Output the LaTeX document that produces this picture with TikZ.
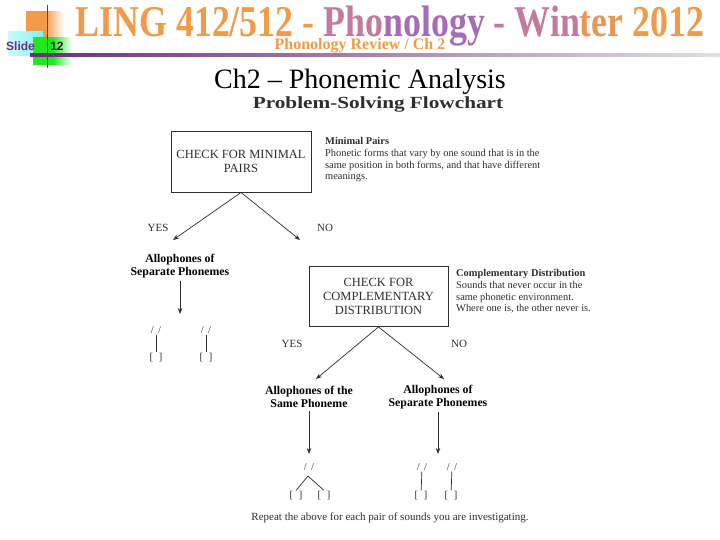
\documentclass[tikz,border=0pt]{standalone}
\usepackage{fontspec}
\setmainfont{Liberation Serif}
\setsansfont{Liberation Sans}
\usetikzlibrary{arrows.meta}

\definecolor{slideorange}{HTML}{F29A48}
\definecolor{slidemauve}{HTML}{C47AA0}
\definecolor{slidepurple}{HTML}{A66CB6}
\definecolor{slideline}{HTML}{6B2D7E}
\definecolor{slidecyan}{HTML}{7FF3F3}
\definecolor{slidegreen}{HTML}{22E622}
\definecolor{inkgrey}{HTML}{2E2E2E}

\tikzset{
  checkbox/.style={draw=inkgrey, line width=0.9pt, align=center, text=inkgrey,
    font=\fontsize{12.5}{13.5}\selectfont, inner sep=0pt},
  answer/.style={text=inkgrey, font=\fontsize{11}{13}\selectfont},
  outcome/.style={text=black, align=center, font=\bfseries\fontsize{11.8}{12.8}\selectfont},
  gloss/.style={text=inkgrey, align=left, anchor=north west, inner sep=0pt,
    font=\fontsize{10.4}{11.8}\selectfont},
  phon/.style={text=inkgrey, inner sep=1pt, font=\fontsize{10.5}{12}\selectfont},
  flow/.style={draw=inkgrey, line width=0.7pt, -{Stealth[length=6pt,width=4.5pt]}},
  stem/.style={draw=inkgrey, line width=0.7pt}
}

\begin{document}
\begin{tikzpicture}[x=1pt, y=-1pt]
  \useasboundingbox[fill=white] (0,0) rectangle (720,540);

  % Slide logo
  \shade[left color=slideorange, right color=white, middle color=slideorange] (26,12) rectangle (64,40);
  \shade[left color=slidecyan!40, right color=slidecyan] (8,32) rectangle (43,56);
  \shade[left color=slidegreen, right color=white, middle color=slidegreen] (33,38) rectangle (72,65);
  \shade[left color=slideline, right color=black!12] (30,54) rectangle (720,57);
  \draw[slideline, line width=1.5pt] (47.5,5) -- (47.5,68);
  \node[text=slideline, font=\sffamily\bfseries\fontsize{12}{12}\selectfont] (slidetag) at (20.5,46) {Slide};
  \node[text=black!85, font=\sffamily\bfseries\fontsize{12}{12}\selectfont] (slidenum) at (57,46) {12};

  % Header
  \node[font=\bfseries\fontsize{44}{44}\selectfont, xscale=0.815, inner sep=0pt] (title) at (390,26)
    {\textcolor{slideorange}{LING 412/512 -} \textcolor{slidemauve}{Pho}\textcolor{slidepurple}{nology} \textcolor{slidemauve}{- Win}\textcolor{slideorange!85!slidemauve}{ter} \textcolor{slideorange}{2012}};
  \node[text=slideorange, font=\bfseries\fontsize{16}{16}\selectfont, inner sep=0pt] (subtitle) at (360,46) {Phonology Review / Ch 2};

  \node[font=\fontsize{28}{28}\selectfont, inner sep=0pt] (heading) at (360,82) {Ch2 -- Phonemic Analysis};
  \node[text=inkgrey, font=\bfseries\fontsize{17}{17}\selectfont, xscale=1.25, inner sep=0pt] (charttitle) at (378,104) {Problem-Solving Flowchart};

  % First test: minimal pairs
  \node[checkbox, minimum width=140pt, minimum height=61pt] (minpairs) at (241,161.5) {CHECK FOR MINIMAL\\PAIRS};
  \node[gloss] (minnote) at (325,137) {\textbf{Minimal Pairs}\\Phonetic forms that vary by one sound that is in the\\same position in both forms, and that have different\\meanings.};

  \coordinate (yesend) at (173,240);
  \coordinate (noend) at (300,240);
  \draw[flow] (minpairs.south) -- (yesend);
  \draw[flow] (minpairs.south) -- (noend);
  \node[answer] (yesone) at (158,228) {YES};
  \node[answer] (noone) at (325,228) {NO};

  \node[outcome] (sepone) at (180,266) {Allophones of\\Separate Phonemes};
  \coordinate (sepend) at (180,314);
  \draw[flow] (sepone.south) -- (sepend);

  % Separate phonemes, first case
  \node[phon] (slasha) at (156,330) {/ \,/};
  \node[phon] (slashb) at (206,330) {/ \,/};
  \node[phon] (bracka) at (156,358) {[ \;]};
  \node[phon] (brackb) at (206,358) {[ \;]};
  \draw[stem] (slasha) -- (bracka);
  \draw[stem] (slashb) -- (brackb);

  % Second test: complementary distribution
  \node[checkbox, minimum width=139pt, minimum height=60pt, font=\fontsize{12.5}{13.7}\selectfont] (compdist) at (378.5,296.5) {CHECK FOR\\COMPLEMENTARY\\DISTRIBUTION};
  \node[gloss] (compnote) at (456,269) {\textbf{Complementary Distribution}\\Sounds that never occur in the\\same phonetic environment.\\Where one is, the other never is.};

  \coordinate (sameend) at (316,379);
  \coordinate (diffend) at (444,379);
  \draw[flow] (compdist.south) -- (sameend);
  \draw[flow] (compdist.south) -- (diffend);
  \node[answer] (yestwo) at (292,344) {YES};
  \node[answer] (notwo) at (459,344) {NO};

  \node[outcome] (samephon) at (309,397) {Allophones of the\\Same Phoneme};
  \node[outcome] (septwo) at (438,397) {Allophones of\\Separate Phonemes};
  \coordinate (samearrow) at (309,454);
  \coordinate (separrow) at (438,454);
  \draw[flow] (samephon.south) -- (samearrow);
  \draw[flow] (septwo.south) -- (separrow);

  % Same phoneme: one underlying form, two allophones
  \node[phon] (slashc) at (309,467) {/ \,/};
  \node[phon] (brackc) at (296,496) {[ \;]};
  \node[phon] (brackd) at (324,496) {[ \;]};
  \coordinate (caret) at (308,476);
  \draw[stem] (brackc.north) -- (caret) -- (brackd.north);

  % Separate phonemes, second case
  \node[phon] (slashe) at (422,467) {/ \,/};
  \node[phon] (slashf) at (452,467) {/ \,/};
  \node[phon] (bracke) at (421,496) {[ \;]};
  \node[phon] (brackf) at (451,496) {[ \;]};
  \draw[stem] (slashe) -- (bracke);
  \draw[stem] (slashf) -- (brackf);

  \node[text=inkgrey, font=\fontsize{11}{12}\selectfont] (repeatnote) at (390,518) {Repeat the above for each pair of sounds you are investigating.};
\end{tikzpicture}
\end{document}
